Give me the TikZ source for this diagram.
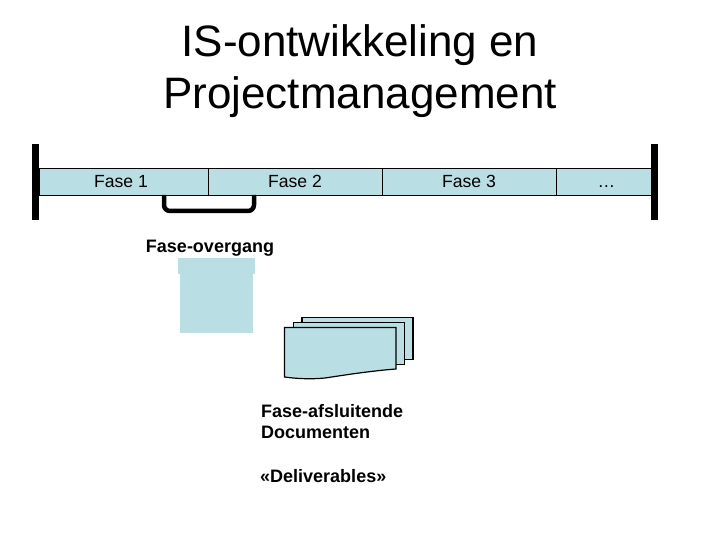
\documentclass[tikz,border=0pt]{standalone}
\usepackage{fontspec}
\setmainfont{Liberation Sans}
\usepackage{xcolor}
\usetikzlibrary{positioning}
\definecolor{lightteal}{RGB}{185,222,227}

\begin{document}
\begin{tikzpicture}[
      x=1pt,y=-1pt,
      myphase/.style={
         rectangle,
         draw=black,
         fill=lightteal,
         line width=0.9pt,
         inner sep=0pt,
         outer sep=0pt,
         minimum height=26.5pt,
         text height=14.5pt,
         text depth=3.5pt,
         font=\fontsize{17.6}{20}\selectfont},
      myend/.style={
         rectangle,
         fill=black,
         inner sep=0pt,
         outer sep=0pt,
         minimum width=7pt,
         minimum height=76pt},
      mypanel/.style={
         rectangle,
         fill=lightteal,
         inner sep=0pt,
         outer sep=0pt},
      mysheet/.style={
         draw=black,
         fill=lightteal,
         line width=1.2pt},
      mylabel/.style={
         align=left,
         inner sep=0pt,
         font=\fontsize{18}{21}\selectfont\bfseries},
      node distance=0pt
      ]
\useasboundingbox (0,0) rectangle (720,540);

\node[align=center,inner sep=0pt,font=\fontsize{44}{52}\selectfont] (title) at (360,71.5) {IS-ontwikkeling en\\Projectmanagement};

\node[myphase,minimum width=169pt] (f1) at (123.5,181.75) {\hspace*{-5pt}Fase 1};

\node[myphase,minimum width=174pt,right=of f1] (f2) {Fase 2};

\node[myphase,minimum width=174pt,right=of f2] (f3) {Fase 3};

\node[myphase,minimum width=95pt,right=of f3] (f4) {\hspace*{6pt}…};

\node[myend,left=of f1] (startbar) {};

\node[myend,right=of f4] (endbar) {};

% overgang tussen fase 1 en fase 2
\coordinate (bl) at (164,195);
\coordinate (br) at (254,195);
\draw[line width=4.5pt,rounded corners=6pt] (bl) -- (bl |- 0,211) -- (br |- 0,211) -- (br);

\node[mylabel] (overgang) at (210,248) {Fase-overgang};

\node[mypanel,minimum width=77pt,minimum height=16pt] (lid) at (216.5,266) {};

\node[mypanel,minimum width=73pt,minimum height=59pt,below=of lid] (body) {};

% documenten
\foreach \i/\j in {% left/top
      302/317.5,293.5/322.5}
      \draw[mysheet] (\i,\j) rectangle ++(111,42);
\draw[mysheet] (284.5,327.5) -- (396,327.5) -- (396,369)
      .. controls (370,371) and (345,375) .. (325,378)
      .. controls (310,379.5) and (295,378.5) .. (284.5,377) -- cycle;

\node[mylabel,anchor=north west] (docs) at (261,404) {Fase-afsluitende\\Documenten};

\node[mylabel,anchor=north west] (deliv) at (260,469) {«Deliverables»};

\end{tikzpicture}
\end{document}
